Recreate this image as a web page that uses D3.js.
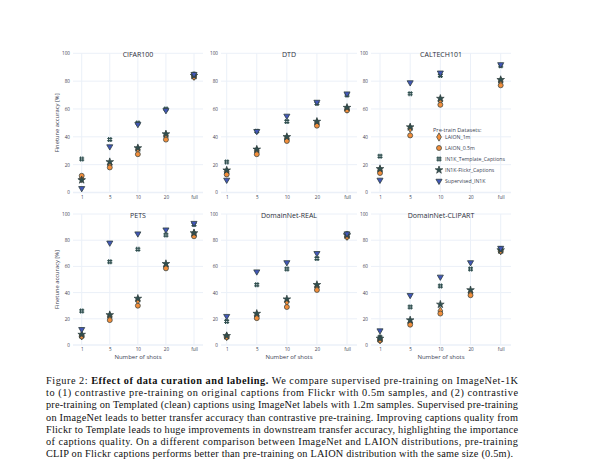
<!DOCTYPE html>
<html>
<head>
<meta charset="utf-8">
<script src="https://cdn.jsdelivr.net/npm/d3@7"></script>
<style>
  body { margin: 0; background: #fff; }
  svg { display: block; }
</style>
</head>
<body>
<div id="canvas"></div>
<script>
// data
var panels = ['CIFAR100', 'DTD', 'CALTECH101', 'PETS', 'DomainNet-REAL', 'DomainNet-CLIPART'];
var shots = ['1', '5', '10', '20', 'full'];
var yTicks = [0, 20, 40, 60, 80, 100];
var seriesNames = ['LAION_1m', 'LAION_0.5m', 'IN1K_Template_Captions', 'IN1K-Flickr_Captions', 'Supervised_IN1K'];

// one row per panel, one value per shot (null = no point)
var laion1m = [
  [10, 20, 31, 41, 83.5],
  [15, 30, 39, 50, 60],
  [16, 46, 66, null, 80],
  [7, 22, 34, 60, 85],
  [6.5, 22.5, 33, 44.5, 83],
  [4, 17, 26, 40, 72]
];
var laion05m = [
  [12, 18, 27.5, 38, 83],
  [13, 27.5, 37, 48, 59],
  [14, 41, 63, null, 77],
  [6.5, 19, 30, 58.5, 83],
  [6, 20.5, 29, 42, 82.5],
  [3.5, 15.5, 24, 38, 71.5]
];
var in1kTemplate = [
  [24, 38, 50, 60, 85],
  [22, 44, 51, 64, 70],
  [26, 71, 84, null, 91],
  [26, 63.5, 73, 84, 92],
  [18, 46, 58, 66, 85],
  [6, 29, 45, 58, 73.5]
];
var in1kFlickr = [
  [9, 22, 32, 42, 84],
  [16, 31, 40, 51, 61],
  [17, 47, 67.5, null, 81],
  [8, 23, 35.5, 62, 85.5],
  [7, 24, 35, 46, 84],
  [5, 19, 31, 42, 72.5]
];
var supervised = [
  [3, 33, 49, 59, 85],
  [9, 44, 55, 65, 71],
  [9, 79, 86, null, 92],
  [12, 78, 85, 88, 93],
  [22, 56, 63, 70, 85],
  [11, 38, 52, 63, 74]
];

var captionLines = [
  [['Figure 2: ', false], ['Effect of data curation and labeling.', true], [' We compare supervised pre-training on ImageNet-1K', false]],
  [['to (1) contrastive pre-training on original captions from Flickr with 0.5m samples, and (2) contrastive', false]],
  [['pre-training on Templated (clean) captions using ImageNet labels with 1.2m samples. Supervised pre-training', false]],
  [['on ImageNet leads to better transfer accuracy than contrastive pre-training. Improving captions quality from', false]],
  [['Flickr to Template leads to huge improvements in downstream transfer accuracy, highlighting the importance', false]],
  [['of captions quality. On a different comparison between ImageNet and LAION distributions, pre-training', false]],
  [['CLIP on Flickr captions performs better than pre-training on LAION distribution with the same size (0.5m).', false]]
];

var allSeries = [laion1m, laion05m, in1kTemplate, in1kFlickr, supervised];

// layout
var W = 600, H = 476;
var font = '"Open Sans", Arial, sans-serif';
var ink = '#3b4354';
var titleInk = '#2b2f3a';
var grid = '#ebf0f8';
var colX0 = [73, 221, 371], colX1 = [203, 357, 511];
var catX0 = [81.7, 226.7, 380], catX1 = [194, 347, 500.7];
var rowTop = [53.3, 214], rowBot = [192.5, 345];

var orange = '#f28e3b', dark = '#2f4f4f', blue = '#4257b9', outline = '#2f3f3f';

svg = d3.select('#canvas').append('svg')
  .attr('width', W)
  .attr('height', H);

svg.append('rect').attr('width', W).attr('height', H).attr('fill', '#fff');

function hashPath(s) {
  var a = s * 0.22, b = s * 0.5;
  return 'M' + (-a) + ',' + (-b) + 'V' + b + 'M' + a + ',' + (-b) + 'V' + b +
         'M' + (-b) + ',' + (-a) + 'H' + b + 'M' + (-b) + ',' + a + 'H' + b;
}

// draws one marker of series k at (0,0) inside g
function drawMarker(g, k) {
  if (k == 0) {
    g.append('path').attr('d', d3.symbol(d3.symbolDiamond, 20)())
      .attr('fill', orange).attr('stroke', outline).attr('stroke-width', 0.7);
  } else if (k == 1) {
    g.append('circle').attr('r', 2.5)
      .attr('fill', orange).attr('stroke', outline).attr('stroke-width', 0.7);
  } else if (k == 2) {
    g.append('path').attr('d', hashPath(5))
      .attr('fill', 'none').attr('stroke', dark).attr('stroke-width', 1.2);
  } else if (k == 3) {
    g.append('path').attr('d', d3.symbol(d3.symbolStar, 18)())
      .attr('fill', dark).attr('stroke', outline).attr('stroke-width', 0.7);
  } else {
    g.append('path').attr('d', d3.symbol(d3.symbolTriangle, 16)())
      .attr('transform', 'rotate(180)')
      .attr('fill', blue).attr('stroke', outline).attr('stroke-width', 0.8);
  }
}

panels.forEach(function(name, p) {
  var col = p % 3, row = Math.floor(p / 3);
  var x = d3.scalePoint().domain(shots).range([catX0[col], catX1[col]]);
  var y = d3.scaleLinear().domain([0, 100]).range([rowBot[row], rowTop[row]]);
  var panel = svg.append('g').attr('id', 'panel' + p);

  // grid
  panel.selectAll('.hgrid').data(yTicks).enter().append('line')
    .attr('x1', colX0[col]).attr('x2', colX1[col])
    .attr('y1', function(d) { return y(d); }).attr('y2', function(d) { return y(d); })
    .attr('stroke', grid).attr('stroke-width', function(d) { return d == 0 ? 1.6 : 1; });
  panel.selectAll('.vgrid').data(shots).enter().append('line')
    .attr('x1', function(d) { return x(d); }).attr('x2', function(d) { return x(d); })
    .attr('y1', rowTop[row]).attr('y2', rowBot[row])
    .attr('stroke', grid).attr('stroke-width', 1);

  // axes via d3
  var yAxis = panel.append('g')
    .attr('transform', 'translate(' + (colX0[col] - 3) + ',0)')
    .call(d3.axisLeft(y).tickValues(yTicks).tickSize(0).tickPadding(0));
  var xAxis = panel.append('g')
    .attr('transform', 'translate(0,' + (rowBot[row] + 1) + ')')
    .call(d3.axisBottom(x).tickSize(0).tickPadding(2));
  [yAxis, xAxis].forEach(function(a) {
    a.select('.domain').remove();
    a.selectAll('text').attr('fill', ink).style('font-family', font).style('font-size', '4.6px');
  });

  panel.append('text')
    .attr('x', (colX0[col] + colX1[col]) / 2)
    .attr('y', rowTop[row] + 3.5)
    .attr('text-anchor', 'middle')
    .attr('fill', titleInk)
    .style('font-family', font).style('font-size', '7px')
    .text(name);

  if (col == 0) {
    panel.append('text')
      .attr('transform', 'translate(59,' + ((rowTop[row] + rowBot[row]) / 2) + ') rotate(-90)')
      .attr('text-anchor', 'middle')
      .attr('fill', ink)
      .style('font-family', font).style('font-size', '5.8px')
      .text('Finetune accuracy [%]');
  }
  if (row == 1) {
    panel.append('text')
      .attr('x', (colX0[col] + colX1[col]) / 2)
      .attr('y', rowBot[row] + 14)
      .attr('text-anchor', 'middle')
      .attr('fill', ink)
      .style('font-family', font).style('font-size', '6px')
      .text('Number of shots');
  }

  // markers
  allSeries.forEach(function(series, k) {
    shots.forEach(function(s, i) {
      var v = series[p][i];
      if (v == null) return;
      var g = panel.append('g').attr('transform', 'translate(' + x(s) + ',' + y(v) + ')');
      drawMarker(g, k);
    });
  });
});

// legend
var legend = svg.append('g').attr('transform', 'translate(433,130)');
legend.append('text')
  .attr('x', 0).attr('y', 2)
  .attr('fill', ink)
  .style('font-family', font).style('font-size', '5.6px')
  .text('Pre-train Datasets:');
seriesNames.forEach(function(n, k) {
  var item = legend.append('g').attr('transform', 'translate(0,' + (7 + k * 11) + ')');
  drawMarker(item.append('g').attr('transform', 'translate(6,0)'), k);
  item.append('text')
    .attr('x', 12).attr('y', 1.8)
    .attr('fill', ink)
    .style('font-family', font).style('font-size', '5.2px')
    .text(n);
});

// caption
var caption = svg.append('g');
captionLines.forEach(function(parts, i) {
  var t = caption.append('text')
    .attr('x', 46)
    .attr('y', 384 + i * 12.2)
    .attr('fill', '#111')
    .style('font-family', '"Liberation Serif", "DejaVu Serif", serif')
    .style('font-size', '10.3px')
    .attr('textLength', i == 6 ? 467 : 472)
    .attr('lengthAdjust', 'spacing');
  parts.forEach(function(pt) {
    t.append('tspan').style('font-weight', pt[1] ? 'bold' : 'normal').text(pt[0]);
  });
});
</script>
</body>
</html>
